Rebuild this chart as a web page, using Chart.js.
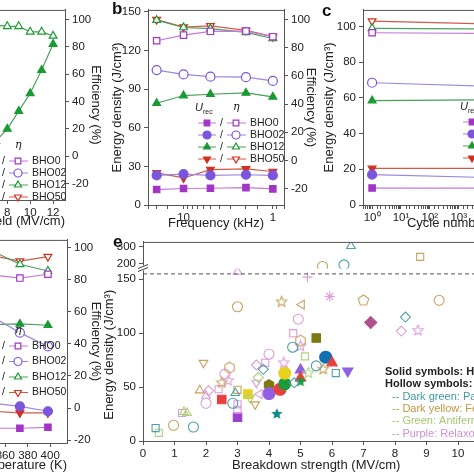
<!DOCTYPE html>
<html>
<head>
<meta charset="utf-8">
<script src="https://cdn.jsdelivr.net/npm/chart.js@4.4.0/dist/chart.umd.min.js"></script>
<style>
  html, body { margin: 0; padding: 0; background: #fff; }
  #page { position: relative; width: 474px; height: 474px; overflow: hidden; }
  canvas { position: absolute; }
  .tag { position: absolute; font: bold 17px 'Liberation Sans', Arial, sans-serif; color: #111; }
</style>
</head>
<body>
<div id="page">
  <canvas id="chartA" width="305" height="230" style="left:-200px;top:0px;width:305px;height:230px"></canvas>
  <canvas id="chartB" width="212" height="232" style="left:108px;top:0px;width:212px;height:232px"></canvas>
  <canvas id="chartC" width="260" height="232" style="left:320px;top:0px;width:260px;height:232px"></canvas>
  <canvas id="chartD" width="305" height="244" style="left:-200px;top:230px;width:305px;height:244px"></canvas>
  <canvas id="chartE" width="400" height="242" style="left:100px;top:232px;width:400px;height:242px"></canvas>
  <div class="tag" style="left:112px;top:-1px">b</div>
  <div class="tag" style="left:322px;top:1px">c</div>
  <div class="tag" style="left:113px;top:232px">e</div>
</div>
<script>
// 系列
const seriesNames = ['BHO0', 'BHO02', 'BHO12', 'BHO50'];
const seriesColors = ['#a234c6', '#7b55dc', '#1a9a32', '#d3301f'];
const lineColors = ['#c47ad6', '#9d86dc', '#4a9f5c', '#cf5a48'];
const seriesShapes = ['rect', 'circle', 'triangle', 'triangle'];
const seriesRot = [0, 0, 0, 180];

// a: 电场 (只看到 BHO12)
const fieldA = [7, 8, 9, 10, 11, 12];
const urecA12 = [11, 20, 33, 46, 63, 82];
const etaA12 = [96, 95, 95, 91, 91, 88];

// b: 频率 (kHz)
const freqB = [20, 10, 5, 2, 1];
const urecB = [
    [12, 12.8, 13, 13.5, 12.5],
    [23, 24, 23, 23.5, 23],
    [79, 85, 86, 87, 84],
    [25, 21, 27.5, 28, 26]
];
const etaB = [
    [84.9, 88.9, 91.6, 91.8, 87.8],
    [64.1, 61, 59.4, 59.1, 56.4],
    [99.5, 94.3, 93.5, 90.8, 86.5],
    [99.9, 94.6, 95.5, 92.3, 87.8]
];

// c: 循环次数
const cycC = [1, 1e5];
const urecC = [[9.5, 9.5], [17, 15], [58.5, 59], [20.5, 20.5]];
const etaC = [[96.5, 96], [68.5, 66], [99, 98.5], [103, 101]];

// d: 温度 (K)
const tempD = [323, 348, 373, 398];
const urecD = [[-12.6, -12.6, -12.6, -12], [4, 3, 1, -2], [52, 52, 52.4, 51.6], [-2, -2, -3, -3]];
const etaD = [[83, 83, 81, 83.4], [60, 57, 47, 38.4], [100, 98, 89.6, 85.4], [95, 95, 91.6, 94.4]];

// e: 击穿强度 vs 储能密度
const dashLevel = 155;
const tealX = [0.4, 1.6, 4.75, 5.5, 3.82, 6.12, 2.93, 4.8, 8.33, 2.85];
const tealY = [12, 13, 87, 69.7, 66.5, 63, 44.5, 54, 115, 35];
const tealS = ['square', 'circle', 'circle', 'circle', 'diamond', 'square', 'triangle', 'diamond', 'diamond', 'circle'];
const tealTopX = [6.6, 6.38];
const tealTopY = [305, 192];
const tealTopS = ['triangle', 'circle'];
const yelX = [0.97, 1.8, 1.92, 2.75, 2.5, 3.0, 3.0, 4.4, 5.04, 7.0, 9.4, 5.72, 3.56, 5.0];
const yelY = [14.6, 47, 72.5, 68, 54, 124.5, 47.5, 129, 126.5, 130.5, 130.5, 66.5, 34, 93];
const yelS = ['circle', 'triangle', 'tridown', 'hexagon', 'star', 'circle', 'square', 'star', 'trileft', 'pentagon', 'circle', 'star', 'tridown', 'hexagon'];
const yelTopX = [5.7, 8.8];
const yelTopY = [182, 240];
const yelTopS = ['circle', 'square'];
const grnX = [0.5, 1.4, 5.14, 3.66, 3.4, 5.25, 1.3];
const grnY = [7.6, 26, 78.5, 59, 40, 63, 27];
const grnS = ['square', 'triangle', 'square', 'diamond', 'tridown', 'star', 'triangle'];
const pinkX = [1.24, 2.0, 2.08, 2.4, 2.6, 2.7, 3.0, 3.6, 3.88, 4.0, 3.6, 3.7, 4.93, 4.77, 5.0, 4.47, 5.93, 8.2, 8.73, 3.0, 5.22, 2.0, 3.0];
const pinkY = [26, 35, 46.5, 48, 62, 56, 34, 70.5, 72.5, 80.5, 54, 43.5, 113, 100, 88, 72.5, 134, 102, 102.5, 157, 152, 42, 29];
const pinkS = ['square', 'circle', 'diamond', 'square', 'circle', 'star', 'square', 'diamond', 'square', 'circle', 'tridown', 'trileft', 'circle', 'square', 'star', 'star', 'asterisk', 'diamond', 'star', 'triangle', 'plus', 'triangle', 'square'];
const solidX = [2.5, 3.0, 3.33, 4.25, 4.0, 4.0, 4.35, 4.5, 4.5, 5.0, 5.0, 5.0, 5.5, 5.8, 6.0, 6.5, 7.23];
const solidY = [38.5, 22, 43.5, 25, 52, 44, 48, 53, 63, 66, 58.5, 55, 95.5, 77.7, 72.5, 65, 110];
const solidS = ['square', 'square', 'square', 'star', 'hexagon', 'circle', 'circle', 'circle', 'circle', 'triangle', 'triangle', 'star', 'square', 'circle', 'triangle', 'tridown', 'diamond'];
const solidC = ['#e8403f', '#9c40cc', '#e8d21e', '#14898a', '#7e7a12', '#9160e2', '#e8403f', '#1c9a3c', '#e8d21e', '#9160e2', '#e8403f', '#1c9a3c', '#7e7a12', '#1070b0', '#e8403f', '#9160e2', '#b0508a'];

const FONT = "'Liberation Sans', Arial, sans-serif";
Chart.defaults.font.family = FONT;
Chart.defaults.font.size = 11.5;
Chart.defaults.color = '#222';
Chart.defaults.animation = false;

// 自定义形状
function shapeCanvas(kind, color, filled, r) {
    const c = document.createElement('canvas');
    const s = Math.ceil(r * 2 + 4);
    c.width = s; c.height = s;
    const g = c.getContext('2d');
    const cx = s / 2, cy = s / 2;
    g.beginPath();
    if (kind === 'star') {
        for (let i = 0; i < 10; i++) {
            const rr = i % 2 === 0 ? r : r * 0.45;
            const a = -Math.PI / 2 + i * Math.PI / 5;
            g.lineTo(cx + rr * Math.cos(a), cy + rr * Math.sin(a));
        }
    } else {
        const n = kind === 'hexagon' ? 6 : 5;
        for (let i = 0; i < n; i++) {
            const a = -Math.PI / 2 + i * 2 * Math.PI / n;
            g.lineTo(cx + r * Math.cos(a), cy + r * Math.sin(a));
        }
    }
    g.closePath();
    if (filled) { g.fillStyle = color; g.fill(); }
    else { g.strokeStyle = color; g.lineWidth = 1.1; g.stroke(); }
    return c;
}

function styleOf(kind, color, filled) {
    switch (kind) {
        case 'square': return ['rect', 0];
        case 'circle': return ['circle', 0];
        case 'triangle': return ['triangle', 0];
        case 'tridown': return ['triangle', 180];
        case 'trileft': return ['triangle', 270];
        case 'diamond': return ['rectRot', 0];
        case 'asterisk': return ['star', 0];
        case 'plus': return ['cross', 0];
        default: return [shapeCanvas(kind, color, filled, filled ? 6 : 5.5), 0];
    }
}

function scatterSet(xs, ys, kinds, color, filled, axis, colors) {
    const styles = kinds.map((k, i) => styleOf(k, colors ? colors[i] : color, filled));
    return {
        type: 'scatter',
        data: xs.map((x, i) => ({ x: x, y: ys[i] })),
        yAxisID: axis,
        pointStyle: styles.map(s => s[0]),
        rotation: styles.map(s => s[1]),
        pointRadius: filled ? 6 : 5,
        borderWidth: 1.1,
        borderColor: colors ? colors : color,
        backgroundColor: filled ? (colors ? colors : color) : 'rgba(0,0,0,0)'
    };
}

// 序列线
function lineSet(xs, ys, i, hollow, axis) {
    return {
        type: 'line',
        data: xs.map((x, k) => ({ x: x, y: ys[k] })),
        yAxisID: axis,
        borderColor: lineColors[i],
        borderWidth: 1.2,
        pointStyle: seriesShapes[i],
        rotation: seriesRot[i],
        pointRadius: 4.5,
        pointBorderColor: seriesColors[i],
        pointBackgroundColor: hollow ? '#fff' : seriesColors[i],
        pointBorderWidth: 1.2
    };
}

// 边框
const frame = {
    id: 'frame',
    afterDraw(chart) {
        const a = chart.chartArea, ctx = chart.ctx;
        ctx.save();
        ctx.strokeStyle = '#555';
        ctx.lineWidth = 1;
        ctx.strokeRect(a.left + 0.5, a.top + 0.5, a.right - a.left, a.bottom - a.top);
        ctx.restore();
    }
};

// 图例
const seriesLegend = {
    id: 'seriesLegend',
    afterDraw(chart, args, o) {
        if (o.x === undefined) return;
        const ctx = chart.ctx, T = o.x, y0 = o.y;
        ctx.save();
        ctx.textBaseline = 'middle';
        ctx.fillStyle = '#222';
        ctx.font = 'italic 11px ' + FONT;
        ctx.fillText('U', T - 55, y0 - 15);
        ctx.font = '7px ' + FONT;
        ctx.fillText('rec', T - 47, y0 - 11);
        ctx.font = 'italic 11px "DejaVu Serif", serif';
        ctx.fillText('η', T - 17, y0 - 16);
        ctx.font = '10.5px ' + FONT;
        seriesNames.forEach((name, i) => {
            const y = y0 + i * o.dy;
            ctx.strokeStyle = lineColors[i];
            ctx.lineWidth = 1.2;
            ctx.beginPath();
            ctx.moveTo(T - 52, y); ctx.lineTo(T - 34, y);
            ctx.moveTo(T - 23, y); ctx.lineTo(T - 4, y);
            ctx.stroke();
            const opt = { pointStyle: seriesShapes[i], rotation: seriesRot[i], radius: 4, borderWidth: 1.2 };
            ctx.strokeStyle = seriesColors[i];
            ctx.fillStyle = seriesColors[i];
            Chart.helpers.drawPoint(ctx, opt, T - 43, y);
            ctx.fillStyle = '#fff';
            Chart.helpers.drawPoint(ctx, opt, T - 14, y);
            ctx.fillStyle = '#222';
            ctx.fillText('/', T - 30, y);
            ctx.fillText(name, T, y);
        });
        ctx.restore();
    }
};
Chart.register(frame, seriesLegend);

function tickGrid() {
    return { drawOnChartArea: false, tickLength: 4, color: '#555' };
}
function vAxis(pos, min, max, step, title, width, display) {
    return {
        type: 'linear', position: pos, min: min, max: max, display: display !== false,
        border: { color: '#555' }, grid: tickGrid(),
        ticks: { stepSize: step, includeBounds: false, padding: 3, autoSkip: false },
        title: { display: !!title, text: title, font: { size: 13 }, padding: 2 },
        afterFit: s => { s.width = width; }
    };
}
function hAxis(type, min, max, title, height, ticks, align) {
    return {
        type: type, min: min, max: max,
        border: { color: '#555' }, grid: tickGrid(),
        ticks: Object.assign({ padding: 2, maxRotation: 0, autoSkip: false, includeBounds: false }, ticks || {}),
        title: { display: true, text: title, font: { size: 13 }, padding: 1, align: align || 'center' },
        afterFit: s => { s.height = height; }
    };
}
const supers = '⁰¹²³⁴⁵⁶⁷⁸⁹';

// a
new Chart(document.getElementById('chartA'), {
    data: { datasets: [lineSet(fieldA, etaA12, 2, true, 'yr'), lineSet(fieldA, urecA12, 2, false, 'yr')] },
    options: {
        responsive: false,
        layout: { padding: { left: 5, top: 2 } },
        plugins: { legend: { display: false }, tooltip: { enabled: false }, seriesLegend: { x: 232, y: 161, dy: 12 } },
        scales: {
            x: hAxis('linear', -9.6, 13.04, 'Electric field (MV/cm)', 30, { stepSize: 2 }, 'end'),
            yr: vAxis('right', -32, 107, 20, 'Efficiency (%)', 40)
        }
    }
});

// b
const dsB = [];
for (let i = 0; i < 4; i++) {
    dsB.push(lineSet(freqB, etaB[i], i, true, 'yr'));
    dsB.push(lineSet(freqB, urecB[i], i, false, 'y'));
}
const bx = hAxis('logarithmic', 0.75, 25, 'Frequency (kHz)', 27, { callback: v => (v === 1 || v === 10) ? String(v) : '' });
bx.reverse = true;
new Chart(document.getElementById('chartB'), {
    data: { datasets: dsB },
    options: {
        responsive: false,
        layout: { padding: { top: 2 } },
        plugins: { legend: { display: false }, tooltip: { enabled: false }, seriesLegend: { x: 142, y: 123, dy: 12 } },
        scales: {
            x: bx,
            y: vAxis('left', 0, 151.5, 30, 'Energy density (J/cm³)', 40),
            yr: vAxis('right', -31.6, 106.8, 20, 'Efficiency (%)', 36)
        }
    }
});

// c
const dsC = [];
for (let i = 0; i < 4; i++) {
    dsC.push(lineSet(cycC, etaC[i], i, true, 'y'));
    dsC.push(lineSet(cycC, urecC[i], i, false, 'y'));
}
new Chart(document.getElementById('chartC'), {
    data: { datasets: dsC },
    options: {
        responsive: false,
        layout: { padding: { top: 5, right: 49 } },
        plugins: { legend: { display: false }, tooltip: { enabled: false }, seriesLegend: { x: 195, y: 122, dy: 12 } },
        scales: {
            x: hAxis('logarithmic', 0.484, Math.pow(10, 5.5), 'Cycle number', 27, {
                callback: v => {
                    const e = Math.log10(v);
                    return Math.abs(e - Math.round(e)) < 1e-6 ? '10' + supers[Math.round(e)] : '';
                }
            }),
            y: vAxis('left', 0, 109.3, 20, 'Energy density (J/cm³)', 43)
        }
    }
});

// d
const dsD = [];
for (let i = 0; i < 4; i++) {
    dsD.push(lineSet(tempD, etaD[i], i, true, 'yr'));
    dsD.push(lineSet(tempD, urecD[i], i, false, 'yr'));
}
new Chart(document.getElementById('chartD'), {
    data: { datasets: dsD },
    options: {
        responsive: false,
        layout: { padding: { left: 5, top: 2 } },
        plugins: { legend: { display: false }, tooltip: { enabled: false }, seriesLegend: { x: 232, y: 116, dy: 15.5 } },
        scales: {
            x: hAxis('linear', 182, 415, 'Temperature (K)', 31, { stepSize: 20 }, 'end'),
            yr: vAxis('right', -21.8, 104.8, 20, 'Efficiency (%)', 38)
        }
    }
});

// e
const dashed = {
    type: 'line',
    data: [{ x: 0, y: dashLevel }, { x: 11, y: dashLevel }],
    yAxisID: 'y',
    borderColor: '#555', borderWidth: 1, borderDash: [4, 3], pointRadius: 0
};
const breakMark = {
    id: 'breakMark',
    afterDraw(chart) {
        const ctx = chart.ctx, x = chart.chartArea.left, y = chart.scales.y.top;
        ctx.save();
        ctx.fillStyle = '#fff';
        ctx.fillRect(x - 3, y - 3, 6, 5);
        ctx.strokeStyle = '#444';
        ctx.beginPath();
        ctx.moveTo(x - 5, y); ctx.lineTo(x + 5, y - 4);
        ctx.moveTo(x - 5, y + 3); ctx.lineTo(x + 5, y - 1);
        ctx.stroke();
        // 图注
        const lines = [
            ['Solid symbols: High-entropy dielectrics', '#222', true],
            ['Hollow symbols: Perovskite dielectrics', '#222', true],
            ['-- Dark green: Paraelectrics', '#3e9aa2', false],
            ['-- Dark yellow: Ferroelectrics', '#bf9840', false],
            ['-- Green: Antiferroelectrics', '#a5c872', false],
            ['-- Purple: Relaxor ferroelectrics', '#d08fd6', false]
        ];
        ctx.textBaseline = 'middle';
        lines.forEach((l, i) => {
            ctx.font = (l[2] ? 'bold ' : '') + '11px ' + FONT;
            ctx.fillStyle = l[1];
            ctx.fillText(l[0], i < 2 ? 285 : 292, 140 + i * 12.3);
        });
        ctx.restore();
    }
};
new Chart(document.getElementById('chartE'), {
    data: {
        datasets: [
            dashed,
            scatterSet(tealX, tealY, tealS, '#4f9fa8', false, 'y'),
            scatterSet(tealTopX, tealTopY, tealTopS, '#4f9fa8', false, 'yTop'),
            scatterSet(yelX, yelY, yelS, '#c9a15c', false, 'y'),
            scatterSet(yelTopX, yelTopY, yelTopS, '#c9a15c', false, 'yTop'),
            scatterSet(grnX, grnY, grnS, '#b3cf80', false, 'y'),
            scatterSet(pinkX, pinkY, pinkS, '#dc9ddc', false, 'y'),
            scatterSet(solidX, solidY, solidS, null, true, 'y', solidC)
        ]
    },
    plugins: [breakMark],
    options: {
        responsive: false,
        layout: { padding: { top: 7, right: 10.5 } },
        plugins: { legend: { display: false }, tooltip: { enabled: false } },
        scales: {
            x: hAxis('linear', 0, 11, 'Breakdown strength (MV/cm)', 33, { stepSize: 1 }),
            y: Object.assign(vAxis('left', 0, 160, 50, 'Energy density (J/cm³)', 43), { stack: 'e', stackWeight: 175 }),
            yTop: Object.assign(vAxis('left', 170, 330, 100, '', 43), { stack: 'e', stackWeight: 27 })
        }
    }
});
</script>
</body>
</html>
